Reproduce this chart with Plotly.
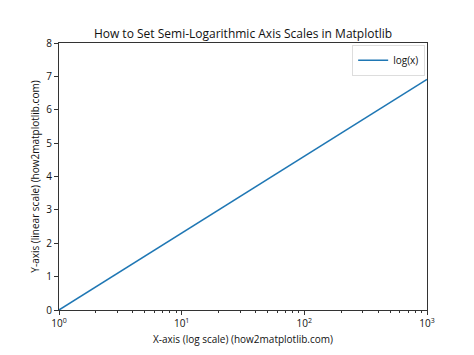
import plotly.graph_objects as go

x_vals = [1, 2, 5, 10, 20, 50, 100, 200, 500, 1000]
y_vals = [0.0, 0.693, 1.609, 2.303, 2.996, 3.912, 4.605, 5.298, 6.215, 6.908]
x_major = [1, 10, 100, 1000]
x_major_labels = ["10<sup>0</sup>", "10<sup>1</sup>", "10<sup>2</sup>", "10<sup>3</sup>"]
x_minor = [m * 10 ** e for e in range(3) for m in range(2, 10)]
y_ticks = [0, 1, 2, 3, 4, 5, 6, 7, 8]

FONT = "Open Sans, DejaVu Sans, sans-serif"

fig = go.Figure()
fig.add_trace(go.Scatter(x=x_vals, y=y_vals, mode="lines", name="log(x)",
                         line=dict(color="#1f77b4", width=1.5)))

fig.update_layout(
    width=474, height=355,
    margin=dict(l=59, r=47, t=43, b=39),
    paper_bgcolor="white", plot_bgcolor="white",
    font=dict(family=FONT, size=10, color="#111"),
    title=dict(text="How to Set Semi-Logarithmic Axis Scales in Matplotlib",
               x=243/474, xanchor="center", xref="container",
               y=1 - 34/355, yanchor="middle", yref="container",
               font=dict(size=12, color="#111")),
    showlegend=True,
    legend=dict(x=0.995, y=0.993, xanchor="right", yanchor="top",
                bgcolor="rgba(255,255,255,0.8)", bordercolor="#ddd", borderwidth=1,
                font=dict(size=10), itemwidth=30, tracegroupgap=0),
    xaxis=dict(type="log", range=[0, 3],
               tickvals=x_major, ticktext=x_major_labels,
               ticks="outside", ticklen=4, tickcolor="#333",
               showline=True, linecolor="#333", linewidth=1, mirror=True,
               showgrid=False, zeroline=False,
               minor=dict(tickvals=x_minor, ticks="outside", ticklen=2, tickcolor="#333", showgrid=False),
               title=dict(text="X-axis (log scale) (how2matplotlib.com)", font=dict(size=10), standoff=6)),
    yaxis=dict(range=[0, 8], tickvals=y_ticks,
               ticks="outside", ticklen=4, tickcolor="#333",
               showline=True, linecolor="#333", linewidth=1, mirror=True,
               showgrid=False, zeroline=False,
               title=dict(text="Y-axis (linear scale) (how2matplotlib.com)", font=dict(size=10), standoff=4)),
)

fig.write_html("out.html")
